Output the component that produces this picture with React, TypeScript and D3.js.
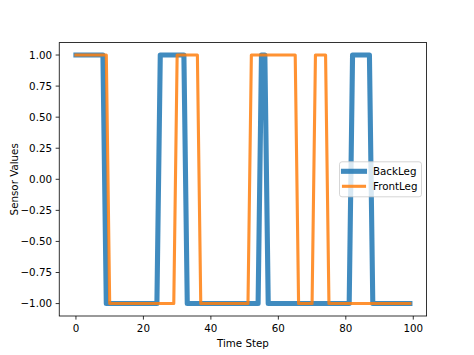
import React from "react";
import * as d3 from "d3";

const backLeg: number[] = [
  1, 1, 1, 1, 1, 1, 1, 1, 1, -1,
  -1, -1, -1, -1, -1, -1, -1, -1, -1, -1,
  -1, -1, -1, -1, -1, 1, 1, 1, 1, 1,
  1, 1, 1, -1, -1, -1, -1, -1, -1, -1,
  -1, -1, -1, -1, -1, -1, -1, -1, -1, -1,
  -1, -1, -1, -1, -1, 1, 1, -1, -1, -1,
  -1, -1, -1, -1, -1, -1, -1, -1, -1, -1,
  -1, -1, -1, -1, -1, -1, -1, -1, -1, -1,
  -1, -1, 1, 1, 1, 1, 1, 1, -1, -1,
  -1, -1, -1, -1, -1, -1, -1, -1, -1, -1,
];

const frontLeg: number[] = [
  1, 1, 1, 1, 1, 1, 1, 1, 1, 1,
  -1, -1, -1, -1, -1, -1, -1, -1, -1, -1,
  -1, -1, -1, -1, -1, -1, -1, -1, -1, -1,
  1, 1, 1, 1, 1, 1, 1, -1, -1, -1,
  -1, -1, -1, -1, -1, -1, -1, -1, -1, -1,
  -1, -1, 1, 1, 1, 1, 1, 1, 1, 1,
  1, 1, 1, 1, 1, 1, -1, -1, -1, -1,
  -1, 1, 1, 1, 1, -1, -1, -1, -1, -1,
  -1, -1, -1, -1, -1, -1, -1, -1, -1, -1,
  -1, -1, -1, -1, -1, -1, -1, -1, -1, -1,
];

const xTicks = [0, 20, 40, 60, 80, 100];
const yTicks = [-1.0, -0.75, -0.5, -0.25, 0.0, 0.25, 0.5, 0.75, 1.0];
const seriesNames = ["BackLeg", "FrontLeg"];

const W = 474;
const H = 355;
const L = 59.25;
const R = 426.6;
const T = 42.6;
const B = 316;
const FONT = "DejaVu Sans, sans-serif";
const FS = 10.3;

export default function App() {
  const n = backLeg.length;
  const x = d3.scaleLinear().domain([-(n - 1) * 0.05, (n - 1) * 1.05]).range([L, R]);
  const y = d3.scaleLinear().domain([-1.1, 1.1]).range([B, T]);
  const line = d3
    .line<number>()
    .x((_, i) => x(i))
    .y((d) => y(d));

  const series = [
    { name: seriesNames[0], data: backLeg, color: "#1f77b4", width: 5.1 },
    { name: seriesNames[1], data: frontLeg, color: "#ff7f0e", width: 3.1 },
  ];

  const legRight = 421.5;
  const legW = 82;
  const legX = legRight - legW;
  const legH = 35;
  const legY = (T + B) / 2 - legH / 2;

  return (
    <svg
      width={W}
      height={H}
      style={{ position: "absolute", left: 0, top: 0, background: "#fff" }}
      fontFamily={FONT}
    >
      <rect x={0} y={0} width={W} height={H} fill="#fff" />
      {series.map((s) => (
        <path
          key={s.name}
          d={line(s.data) || ""}
          fill="none"
          stroke={s.color}
          strokeOpacity={0.85}
          strokeWidth={s.width}
          strokeLinejoin="round"
          strokeLinecap="square"
        />
      ))}
      {/* spines */}
      <rect x={L} y={T} width={R - L} height={B - T} fill="none" stroke="#000" strokeWidth={0.8} />
      {xTicks.map((t) => (
        <g key={"x" + t}>
          <line x1={x(t)} x2={x(t)} y1={B} y2={B + 3.6} stroke="#000" strokeWidth={0.8} />
          <text x={x(t)} y={B + 15.5} textAnchor="middle" fontSize={FS} fill="#000">
            {t}
          </text>
        </g>
      ))}
      {yTicks.map((t) => (
        <g key={"y" + t}>
          <line x1={L - 3.6} x2={L} y1={y(t)} y2={y(t)} stroke="#000" strokeWidth={0.8} />
          <text x={L - 7.2} y={y(t)} dy="0.36em" textAnchor="end" fontSize={FS} fill="#000">
            {t < 0 ? "\u2212" + Math.abs(t).toFixed(2) : t.toFixed(2)}
          </text>
        </g>
      ))}
      <text x={(L + R) / 2} y={347} textAnchor="middle" fontSize={FS} fill="#000">
        Time Step
      </text>
      <text
        transform={`translate(${17.5},${(T + B) / 2}) rotate(-90)`}
        textAnchor="middle"
        fontSize={FS}
        fill="#000"
      >
        Sensor Values
      </text>
      {/* legend */}
      <rect
        x={legX}
        y={legY}
        width={legW}
        height={legH}
        rx={2.5}
        fill="#fff"
        fillOpacity={0.8}
        stroke="#cccccc"
        strokeWidth={0.8}
      />
      {series.map((s, i) => {
        const cy = legY + 9.5 + i * 15;
        return (
          <g key={"leg" + s.name}>
            <line
              x1={legX + 4}
              x2={legX + 25}
              y1={cy}
              y2={cy}
              stroke={s.color}
              strokeOpacity={0.85}
              strokeWidth={s.width}
              strokeLinecap="square"
            />
            <text x={legX + 33.5} y={cy} dy="0.36em" fontSize={FS} fill="#000">
              {s.name}
            </text>
          </g>
        );
      })}
    </svg>
  );
}
